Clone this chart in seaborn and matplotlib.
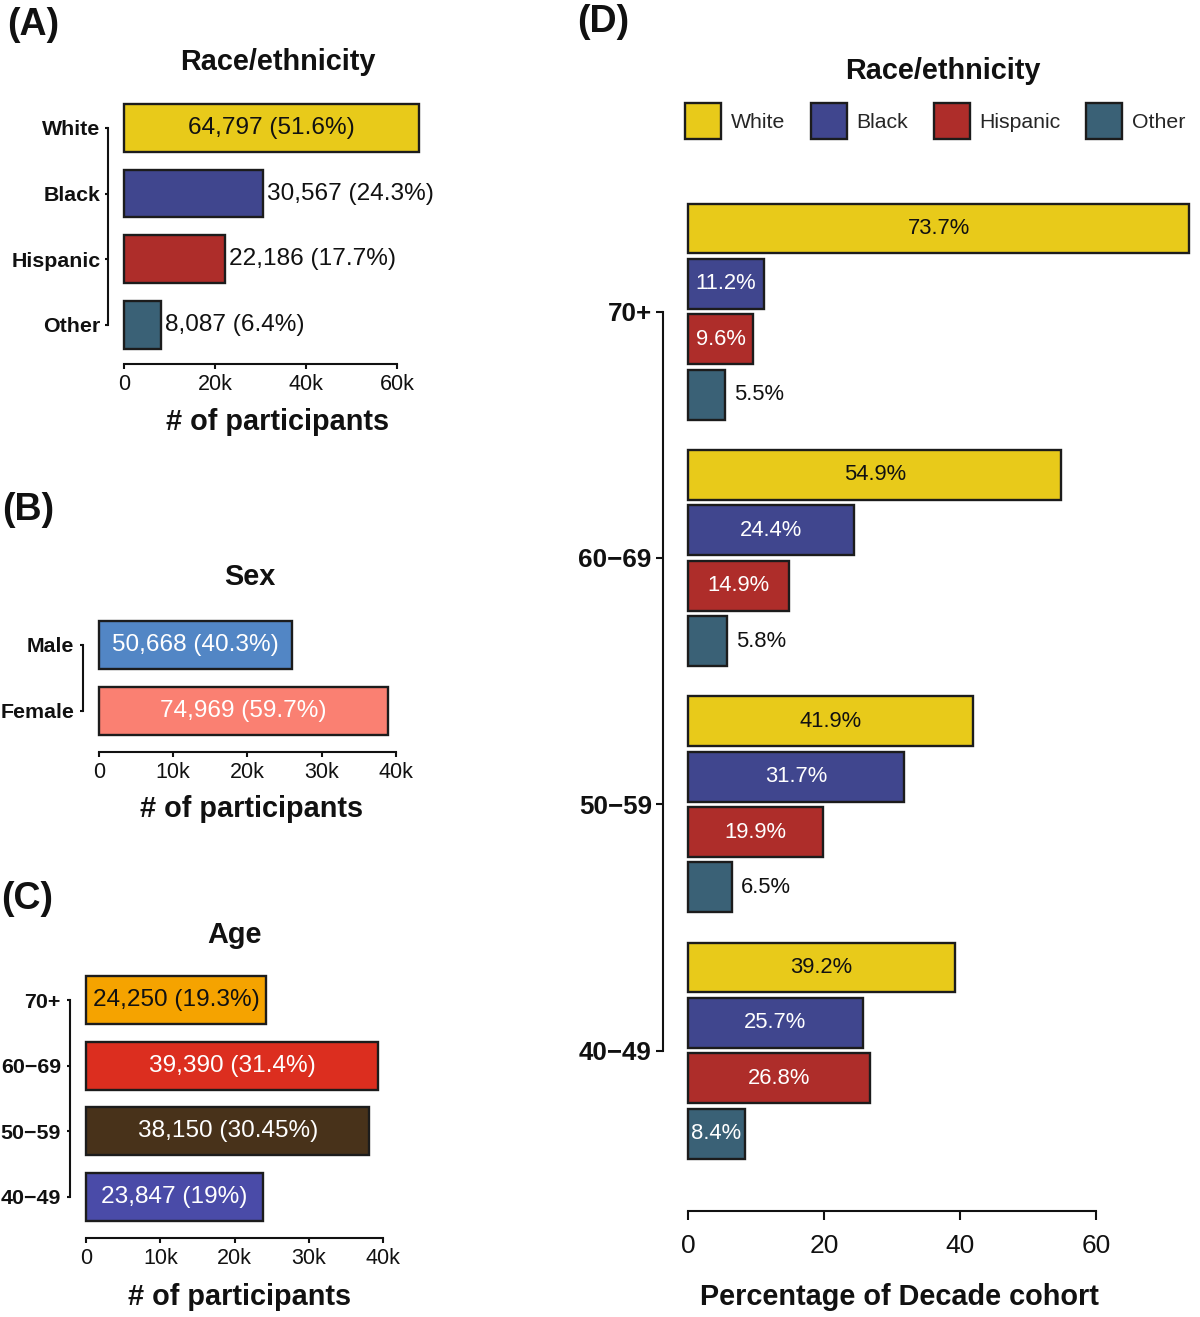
import numpy as np
import pandas as pd
import seaborn as sns
import matplotlib.pyplot as plt
import matplotlib.ticker as ticker

# ---- data -------------------------------------------------------------
# (A) race / ethnicity
race = ["White", "Black", "Hispanic", "Other"]
race_n = [64797, 30567, 22186, 8087]
race_lbl = ["64,797 (51.6%)", "30,567 (24.3%)", "22,186 (17.7%)", "8,087 (6.4%)"]

# (B) sex (bar lengths as drawn against the axis in the figure)
sex = ["Male", "Female"]
sex_n = [26000, 38900]
sex_lbl = ["50,668 (40.3%)", "74,969 (59.7%)"]

# (C) age
age = ["70+", "60\u221269", "50\u221259", "40\u221249"]
age_n = [24250, 39390, 38150, 23847]
age_lbl = ["24,250 (19.3%)", "39,390 (31.4%)", "38,150 (30.45%)", "23,847 (19%)"]

# (D) percentage of decade cohort by race
pct_white = [73.7, 54.9, 41.9, 39.2]
pct_black = [11.2, 24.4, 31.7, 25.7]
pct_hisp = [9.6, 14.9, 19.9, 26.8]
pct_other = [5.5, 5.8, 6.5, 8.4]

race_cols = ["#E8CA1A", "#40468E", "#AE2D2A", "#3A6176"]
sex_cols = ["#5286C5", "#FA8072"]
age_cols = ["#F5A300", "#DC2E1F", "#48321A", "#4A4BA8"]

EDGE = "#1c1c1c"
INK = "#111111"

sns.set_style("white")
plt.rcParams["font.family"] = ["Liberation Sans", "DejaVu Sans"]

W, H = 1200, 1317
fig = plt.figure(figsize=(W / 100, H / 100), dpi=100)


def px_axes(left, top, right, bottom):
    return fig.add_axes([left / W, 1 - bottom / H, (right - left) / W, (bottom - top) / H])


def ftext(x, y, s, **kw):
    fig.text(x / W, 1 - y / H, s, **kw)


def kfmt(v, pos):
    return "0" if v == 0 else f"{int(round(v / 1000))}k"


def count_panel(ax, cats, vals, labels, cols, inside, txt_cols, xticks, width):
    df = pd.DataFrame({"cat": cats, "n": vals})
    sns.barplot(data=df, x="n", y="cat", hue="cat", order=cats, hue_order=cats,
                palette=cols, legend=False, width=width, saturation=1,
                edgecolor=EDGE, linewidth=1.7, ax=ax)
    for i, cont in enumerate(ax.containers):
        if inside[i]:
            ax.bar_label(cont, labels=[labels[i]], label_type="center",
                         color=txt_cols[i], fontsize=17.6)
        else:
            ax.bar_label(cont, labels=[labels[i]], label_type="edge", padding=3,
                         color=txt_cols[i], fontsize=17.6)
    ax.set_xticks(xticks)
    ax.xaxis.set_major_formatter(ticker.FuncFormatter(kfmt))
    ax.set_xlabel("")
    ax.set_ylabel("")
    sns.despine(ax=ax)
    for s in ["left", "bottom"]:
        ax.spines[s].set_linewidth(1.5)
        ax.spines[s].set_color(INK)
    ax.spines["left"].set_bounds(0, len(cats) - 1)
    ax.spines["bottom"].set_bounds(xticks[0], xticks[-1])
    ax.tick_params(axis="x", length=3.5, width=1.5, color=INK, pad=3.8, labelsize=15.5,
                   labelcolor=INK, bottom=True)
    ax.tick_params(axis="y", length=2.5, width=1.5, color=INK, pad=3, labelsize=15.4,
                   labelcolor=INK, left=True)
    for t in ax.get_yticklabels():
        t.set_fontweight("bold")


# ---- (A) --------------------------------------------------------------
axA = px_axes(108.3, 95, 430, 364.3)
count_panel(axA, race, race_n, race_lbl, race_cols,
            [True, False, False, False], [INK] * 4, [0, 20000, 40000, 60000], 0.73)
axA.set_xlim(-3450, 67250)
axA.set_ylim(3.60, -0.50)

# ---- (B) --------------------------------------------------------------
axB = px_axes(83.3, 612, 410, 751.7)
count_panel(axB, sex, sex_n, sex_lbl, sex_cols,
            [True, True], ["white", "white"], [0, 10000, 20000, 30000, 40000], 0.727)
axB.set_xlim(-2114, 41886)
axB.set_ylim(1.617, -0.5)
axB.tick_params(axis="y", pad=4)

# ---- (C) --------------------------------------------------------------
axC = px_axes(70, 965, 410, 1237.7)
count_panel(axC, age, age_n, age_lbl, age_cols,
            [True] * 4, [INK, "white", "white", "white"], [0, 10000, 20000, 30000, 40000], 0.73)
axC.set_xlim(-2155, 43636)
axC.set_ylim(3.623, -0.534)
axC.tick_params(axis="y", pad=4)

# ---- (D) --------------------------------------------------------------
d_df = pd.DataFrame({
    "age": age * 4,
    "race": np.repeat(race, 4),
    "pct": pct_white + pct_black + pct_hisp + pct_other,
})
axD = px_axes(662.7, 190, 1195, 1210.7)
sns.barplot(data=d_df, x="pct", y="age", hue="race", order=age, hue_order=race,
            palette=race_cols, width=0.9, gap=0.1, saturation=1,
            edgecolor=EDGE, linewidth=1.7, ax=axD)
for j, cont in enumerate(axD.containers):
    vals = d_df.loc[d_df["race"] == race[j], "pct"].tolist()
    inner = [f"{v}%" if v >= 8 else "" for v in vals]
    outer = [f"{v}%" if v < 8 else "" for v in vals]
    axD.bar_label(cont, labels=inner, label_type="center",
                  color=INK if j == 0 else "white", fontsize=15.8)
    axD.bar_label(cont, labels=outer, label_type="edge", padding=6,
                  color=INK, fontsize=15.8)

axD.set_xlim(-3.72, 74.56)
axD.set_ylim(3.65, -0.494)
axD.set_xticks([0, 20, 40, 60])
axD.set_xlabel("")
axD.set_ylabel("")
sns.despine(ax=axD)
for s in ["left", "bottom"]:
    axD.spines[s].set_linewidth(1.5)
    axD.spines[s].set_color(INK)
axD.spines["left"].set_bounds(0, 3)
axD.spines["bottom"].set_bounds(0, 60)
axD.tick_params(axis="x", length=6.5, width=1.5, color=INK, pad=10, labelsize=19,
                labelcolor=INK, bottom=True)
axD.tick_params(axis="y", length=4.8, width=1.5, color=INK, pad=3, labelsize=18.7,
                labelcolor=INK, left=True)
for t in axD.get_yticklabels():
    t.set_fontweight("bold")

sns.move_legend(axD, loc="upper left", bbox_to_anchor=(685 / W, 1 - 103 / H),
                bbox_transform=fig.transFigure, ncol=4, frameon=False, title=None,
                fontsize=15.3, handlelength=1.7, handleheight=2.23, handletextpad=0.47,
                columnspacing=1.18, borderpad=0, borderaxespad=0)
for h in axD.get_legend().legend_handles:
    h.set_edgecolor(EDGE)
    h.set_linewidth(1.7)

# ---- titles, axis titles, panel tags ----------------------------------
bold = dict(fontweight="bold", color=INK, ha="center", va="baseline")
ftext(278, 70, "Race/ethnicity", fontsize=20.8, **bold)
ftext(250, 585, "Sex", fontsize=20.8, **bold)
ftext(235, 943, "Age", fontsize=20.8, **bold)
ftext(942.5, 79, "Race/ethnicity", fontsize=20.8, **bold)

ftext(277.5, 430, "# of participants", fontsize=20.8, **bold)
ftext(252, 817, "# of participants", fontsize=20.8, **bold)
ftext(240, 1305, "# of participants", fontsize=20.8, **bold)
ftext(899, 1305, "Percentage of Decade cohort", fontsize=20.8, **bold)

tag = dict(fontsize=27, fontweight="bold", color=INK, ha="left", va="center")
ftext(7, 25, "(A)", **tag)
ftext(2, 510, "(B)", **tag)
ftext(1, 899, "(C)", **tag)
ftext(577, 22, "(D)", **tag)

fig.savefig("out.png", dpi=100, facecolor="white")
